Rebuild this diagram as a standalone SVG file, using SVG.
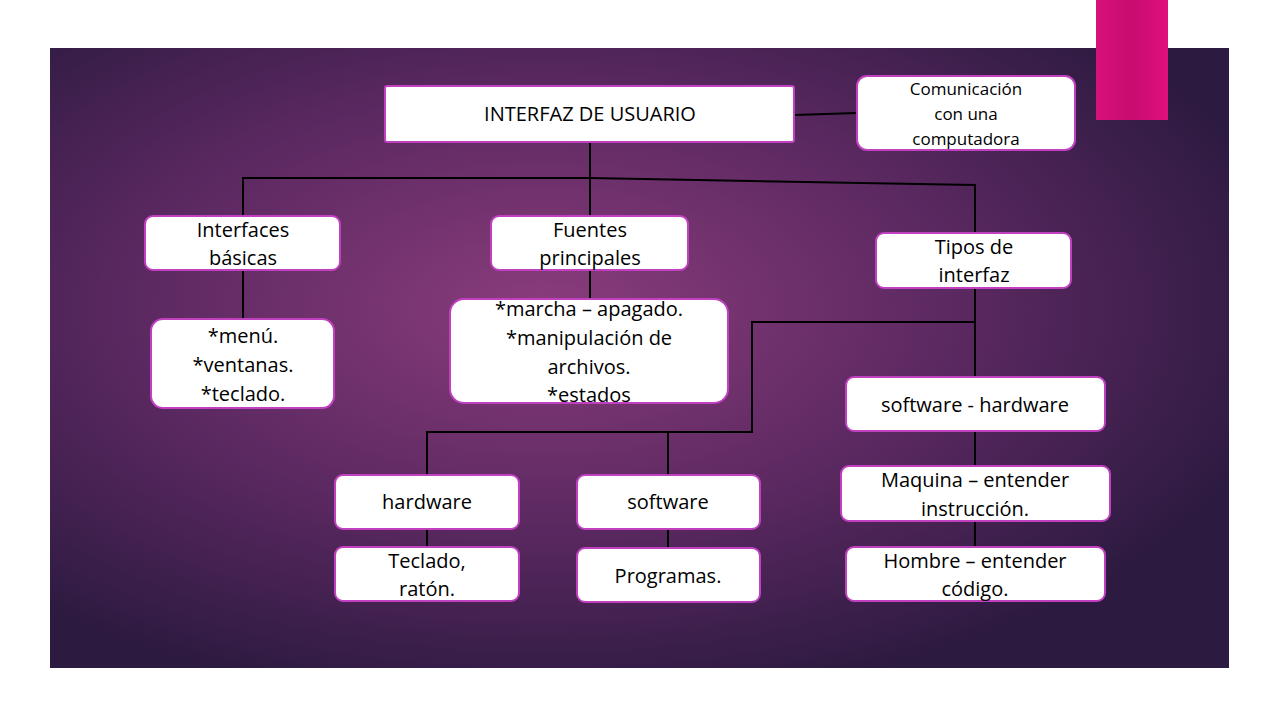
<svg xmlns="http://www.w3.org/2000/svg" width="1280" height="720" viewBox="0 0 1280 720">
<defs>
<radialGradient id="bg" cx="0.42" cy="0.42" r="0.65">
<stop offset="0" stop-color="#8a3c7c"/>
<stop offset="0.55" stop-color="#5a2860"/>
<stop offset="1" stop-color="#2c1a40"/>
</radialGradient>
<linearGradient id="pk" x1="0" x2="1"><stop offset="0" stop-color="#d8107a"/><stop offset="0.5" stop-color="#c80c70"/><stop offset="1" stop-color="#e0107e"/></linearGradient>
</defs>
<style>
.n rect{fill:#fff;stroke:#c040c0;stroke-width:2}
text{font-family:"Open Sans","DejaVu Sans",sans-serif;font-size:20px;fill:#000;text-anchor:middle}
.s{font-size:17px}
#conn path{fill:none;stroke:#000;stroke-width:2}
</style>
<rect width="1280" height="720" fill="#fff"/>
<rect x="50" y="48" width="1179" height="620" fill="url(#bg)"/>
<rect x="1096" y="0" width="72" height="120" fill="url(#pk)"/>
<g id="conn">
<path d="M794 115L857 113"/>
<path d="M590 142V216"/>
<path d="M243 216V178H590L975 185V233"/>
<path d="M243 270V319"/>
<path d="M590 270V299"/>
<path d="M975 288V377"/>
<path d="M975 322H752V432H427V475"/>
<path d="M668 432V475"/>
<path d="M975 431V466"/>
<path d="M975 521V547"/>
<path d="M427 529V547"/>
<path d="M668 529V548"/>
</g>
<g id="n1" class="n"><rect x="385" y="86" width="409" height="56" rx="2"/><text x="590" y="121">INTERFAZ DE USUARIO</text></g>
<g id="n2" class="n"><rect x="857" y="76" width="218" height="74" rx="10"/><text class="s" x="966" y="95">Comunicación</text><text class="s" x="966" y="120">con una</text><text class="s" x="966" y="145">computadora</text></g>
<g id="n3" class="n"><rect x="145" y="216" width="195" height="54" rx="8"/><text x="243" y="237">Interfaces</text><text x="243" y="265">básicas</text></g>
<g id="n4" class="n"><rect x="491" y="216" width="197" height="54" rx="8"/><text x="590" y="237">Fuentes</text><text x="590" y="265">principales</text></g>
<g id="n5" class="n"><rect x="876" y="233" width="195" height="55" rx="8"/><text x="974" y="254">Tipos de</text><text x="974" y="282">interfaz</text></g>
<g id="n6" class="n"><rect x="151" y="319" width="183" height="89" rx="12"/><text x="243" y="343">*menú.</text><text x="243" y="372">*ventanas.</text><text x="243" y="401">*teclado.</text></g>
<g id="n7" class="n"><rect x="450" y="299" width="278" height="104" rx="14"/><text x="589" y="316">*marcha – apagado.</text><text x="589" y="345">*manipulación de</text><text x="589" y="374">archivos.</text><text x="589" y="402">*estados</text></g>
<g id="n8" class="n"><rect x="846" y="377" width="259" height="54" rx="8"/><text x="975" y="412">software - hardware</text></g>
<g id="n9" class="n"><rect x="335" y="475" width="184" height="54" rx="8"/><text x="427" y="509">hardware</text></g>
<g id="n10" class="n"><rect x="577" y="475" width="183" height="54" rx="8"/><text x="668" y="509">software</text></g>
<g id="n11" class="n"><rect x="841" y="466" width="269" height="55" rx="8"/><text x="975" y="487">Maquina – entender</text><text x="975" y="516">instrucción.</text></g>
<g id="n12" class="n"><rect x="335" y="547" width="184" height="54" rx="8"/><text x="427" y="568">Teclado,</text><text x="427" y="596">ratón.</text></g>
<g id="n13" class="n"><rect x="577" y="548" width="183" height="54" rx="8"/><text x="668" y="583">Programas.</text></g>
<g id="n14" class="n"><rect x="846" y="547" width="259" height="54" rx="8"/><text x="975" y="568">Hombre – entender</text><text x="975" y="596">código.</text></g>
</svg>
